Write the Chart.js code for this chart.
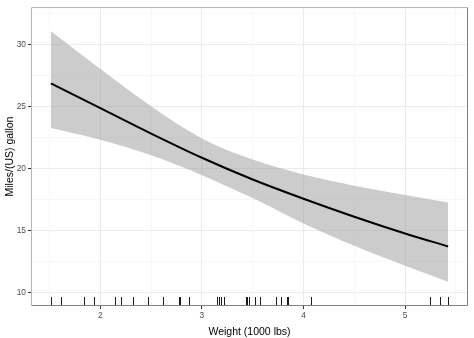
<!DOCTYPE html>
<html>
<head>
<meta charset="utf-8">
<script src="https://cdn.jsdelivr.net/npm/chart.js@4.4.1/dist/chart.umd.min.js"></script>
<style>
  html, body { margin: 0; padding: 0; background: #fff; }
</style>
</head>
<body>
<canvas id="chart" width="474" height="338"></canvas>
<script>
// fitted curve + confidence band
const wtGrid = [1.513, 2.0, 2.5, 3.0, 3.5, 4.0, 4.5, 5.0, 5.424];
const fitMpg = [26.9, 24.9, 22.85, 20.9, 19.15, 17.6, 16.15, 14.8, 13.75];
const upperMpg = [31.1, 28.05, 25.05, 22.45, 20.75, 19.55, 18.65, 17.9, 17.3];
const lowerMpg = [23.3, 22.35, 21.1, 19.5, 17.65, 15.6, 13.8, 12.2, 10.9];

// rug marks (car weights)
const wtRug = [2.620, 2.875, 2.320, 3.215, 3.440, 3.460, 3.570, 3.190, 3.150, 3.440,
  3.440, 4.070, 3.730, 3.780, 5.250, 5.424, 5.345, 2.200, 1.615, 1.835, 2.465, 3.520,
  3.435, 3.840, 3.845, 1.935, 2.140, 1.513, 3.170, 2.770, 3.570, 2.780];

const xTicks = [1.5, 2, 2.5, 3, 3.5, 4, 4.5, 5, 5.5];
const xLabels = ['', '2', '', '3', '', '4', '', '5', ''];
const yTicks = [10, 12.5, 15, 17.5, 20, 22.5, 25, 27.5, 30, 32.5];
const yLabels = ['10', '', '15', '', '20', '', '25', '', '30', ''];

const pts = (ys) => wtGrid.map((x, i) => ({ x: x, y: ys[i] }));

const isMajor = (labels, ctx) => ctx.tick && labels[ctx.index] !== '' && labels[ctx.index] !== undefined;

// rug along the bottom of the panel
const rugPlugin = {
  id: 'rug',
  afterDatasetsDraw(chart) {
    const { ctx, chartArea } = chart;
    const xs = chart.scales.x;
    const len = (chartArea.bottom - chartArea.top) * 0.03;
    ctx.save();
    ctx.strokeStyle = '#1a1a1a';
    ctx.lineWidth = 1;
    wtRug.forEach(w => {
      const px = Math.round(xs.getPixelForValue(w)) + 0.5;
      ctx.beginPath();
      ctx.moveTo(px, chartArea.bottom);
      ctx.lineTo(px, chartArea.bottom - len);
      ctx.stroke();
    });
    ctx.restore();
  }
};

// panel border like theme_bw
const borderPlugin = {
  id: 'panelBorder',
  afterDraw(chart) {
    const { ctx, chartArea } = chart;
    const l = chartArea.left + 0.5, r = chartArea.right - 0.5;
    const t = chartArea.top + 0.5, b = chartArea.bottom - 0.5;
    ctx.save();
    ctx.lineWidth = 1;
    ctx.strokeStyle = '#b5b5b5';
    ctx.beginPath(); ctx.moveTo(l, b); ctx.lineTo(l, t); ctx.lineTo(r, t); ctx.stroke();
    ctx.strokeStyle = '#808080';
    ctx.beginPath(); ctx.moveTo(r, t); ctx.lineTo(r, b); ctx.lineTo(l, b); ctx.stroke();
    ctx.restore();
  }
};

new Chart(document.getElementById('chart'), {
  type: 'line',
  data: {
    datasets: [
      {
        label: 'fit',
        data: pts(fitMpg),
        borderColor: '#000',
        borderWidth: 2,
        pointRadius: 0,
        fill: false,
        cubicInterpolationMode: 'monotone',
        order: 0
      },
      {
        label: 'upper',
        data: pts(upperMpg),
        borderWidth: 0,
        borderColor: 'rgba(0,0,0,0)',
        backgroundColor: 'rgba(153,153,153,0.5)',
        pointRadius: 0,
        fill: '+1',
        cubicInterpolationMode: 'monotone',
        order: 2
      },
      {
        label: 'lower',
        data: pts(lowerMpg),
        borderWidth: 0,
        borderColor: 'rgba(0,0,0,0)',
        pointRadius: 0,
        fill: false,
        cubicInterpolationMode: 'monotone',
        order: 3
      }
    ]
  },
  options: {
    responsive: false,
    animation: false,
    layout: { padding: { top: 5, right: 6, left: 0, bottom: 0 } },
    plugins: {
      legend: { display: false },
      tooltip: { enabled: false }
    },
    scales: {
      x: {
        type: 'linear',
        min: 1.317,
        max: 5.62,
        afterBuildTicks: (s) => { s.ticks = xTicks.map(v => ({ value: v })); },
        afterFit: (s) => { s.height = 32; },
        border: { display: false },
        grid: {
          color: (ctx) => isMajor(xLabels, ctx) ? '#ebebeb' : '#f5f5f5',
          lineWidth: (ctx) => isMajor(xLabels, ctx) ? 1 : 0.8,
          tickColor: (ctx) => isMajor(xLabels, ctx) ? '#333' : 'rgba(0,0,0,0)',
          tickLength: 3
        },
        ticks: {
          autoSkip: false,
          maxRotation: 0,
          padding: 2,
          color: '#4d4d4d',
          font: { family: 'Liberation Sans', size: 8.4 },
          callback: (v, i) => xLabels[i]
        },
        title: {
          display: true,
          text: 'Weight (1000 lbs)',
          color: '#000',
          font: { family: 'Liberation Sans', size: 10.5 },
          padding: { top: 1, bottom: 0 }
        }
      },
      y: {
        type: 'linear',
        min: 8.95,
        max: 33.05,
        afterBuildTicks: (s) => { s.ticks = yTicks.map(v => ({ value: v })); },
        afterFit: (s) => { s.width = 31; },
        border: { display: false },
        grid: {
          color: (ctx) => isMajor(yLabels, ctx) ? '#ebebeb' : '#f5f5f5',
          lineWidth: (ctx) => isMajor(yLabels, ctx) ? 1 : 0.8,
          tickColor: (ctx) => isMajor(yLabels, ctx) ? '#333' : 'rgba(0,0,0,0)',
          tickLength: 3
        },
        ticks: {
          autoSkip: false,
          padding: 2,
          color: '#4d4d4d',
          font: { family: 'Liberation Sans', size: 8.4 },
          callback: (v, i) => yLabels[i]
        },
        title: {
          display: true,
          text: 'Miles/(US) gallon',
          color: '#000',
          font: { family: 'Liberation Sans', size: 10.5 },
          padding: { top: 4, bottom: 0 }
        }
      }
    }
  },
  plugins: [rugPlugin, borderPlugin]
});
</script>
</body>
</html>
